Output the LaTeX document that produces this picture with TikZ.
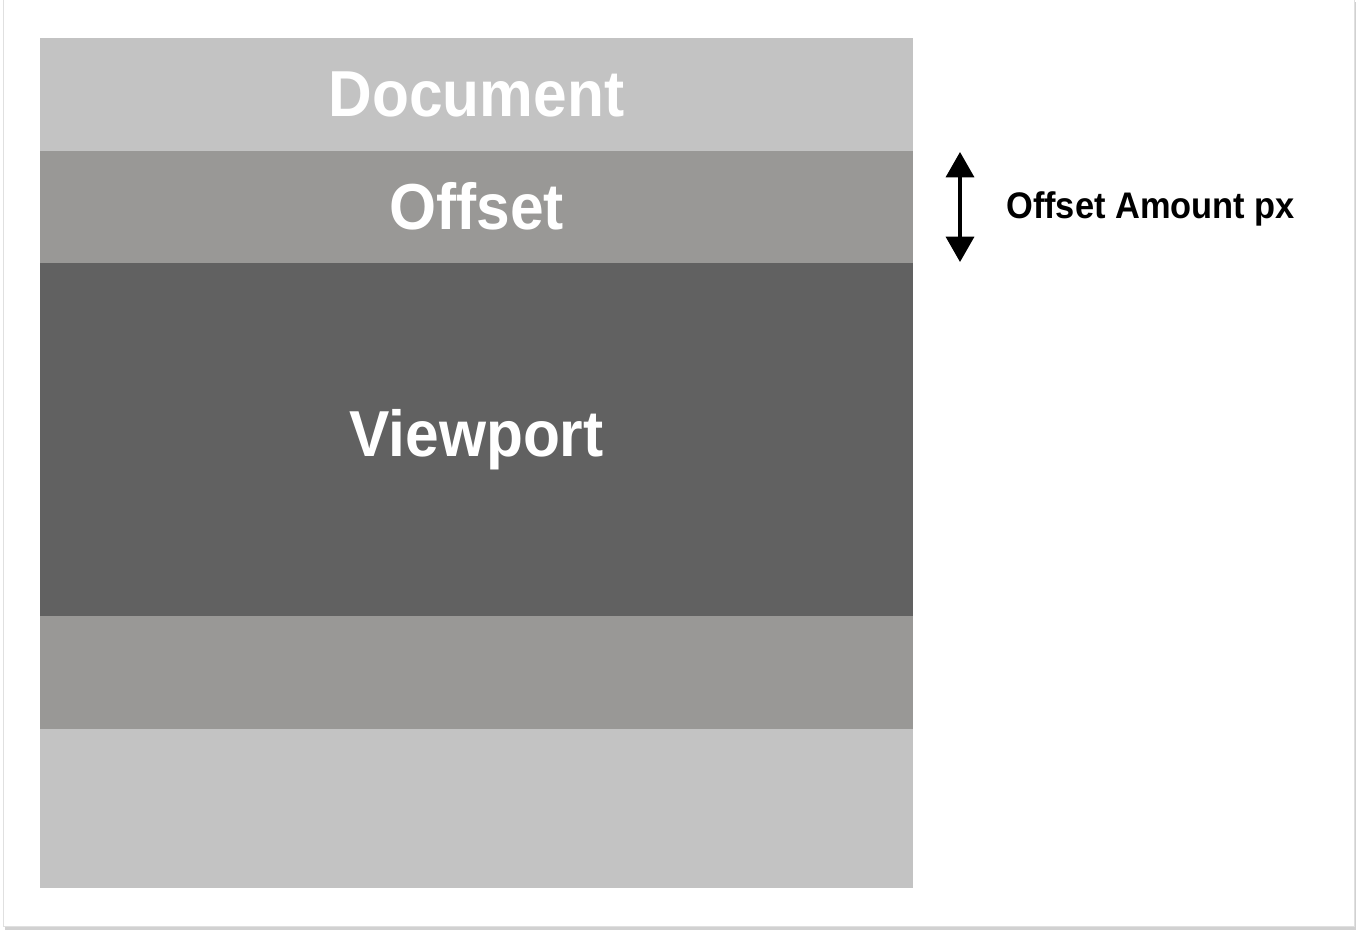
\documentclass[tikz,border=0pt]{standalone}
\usepackage{fontspec}
\setmainfont{Liberation Sans}[FakeStretch=0.93]
\usepackage{xcolor}
\usetikzlibrary{positioning, arrows.meta}

\definecolor{doclight}{HTML}{C3C3C3}
\definecolor{offmid}{HTML}{999896}
\definecolor{viewdark}{HTML}{616161}

\begin{document}
\begin{tikzpicture}[
    x=0.75pt, y=-0.75pt,
    node distance=0pt,
    band/.style={
        rectangle, inner sep=0pt, outer sep=0pt,
        minimum width=654.75pt,
        align=center, text=white,
        font=\fontsize{48.75}{50}\selectfont\bfseries
    },
    arr/.style={line width=2.6pt, {Triangle[width=21pt, length=19pt]}-{Triangle[width=21pt, length=19pt]}},
    lbl/.style={font=\fontsize{27.75}{30}\selectfont\bfseries, text=black, inner sep=0pt, anchor=west},
]
\useasboundingbox (0,0) rectangle (1358,934);

% Card with soft shadow
\fill[black!18] (5,2) rectangle (1356,930);
\fill[white] (3,-2) rectangle (1354,926);
\draw[black!12, line width=0.5pt] (3,-2) rectangle (1354,926);

% Stacked bands
\node[band, fill=doclight, minimum height=84.75pt, anchor=north west] at (40,38) (doc) {Document};
\node[band, fill=offmid, minimum height=84pt, below=of doc] (off) {\raisebox{2pt}{Offset}};
\node[band, fill=viewdark, minimum height=264.75pt, below=of off] (view) {\raisebox{-3pt}{Viewport}};
\node[band, fill=offmid, minimum height=84.75pt, below=of view] (offlow) {};
\node[band, fill=doclight, minimum height=119.25pt, below=of offlow] (doclow) {};

% Offset amount marker
\coordinate (arrtop) at (960,152);
\coordinate (arrbot) at (960,262);
\draw[arr] (arrtop) -- (arrbot);
\node[lbl] at (1006,209) (amount) {Offset Amount px};

\end{tikzpicture}
\end{document}
